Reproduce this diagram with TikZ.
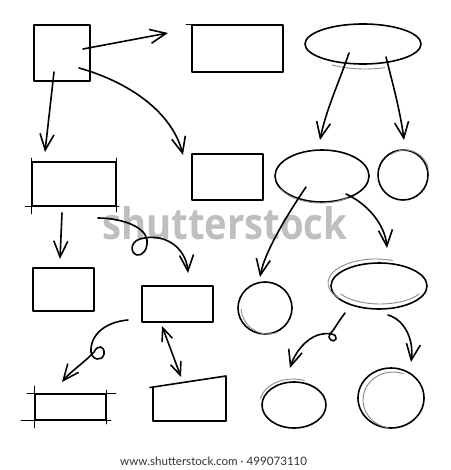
\documentclass[tikz,border=0pt]{standalone}
\usepackage{fontspec}
\usepackage{graphicx}
\newfontfamily\footfont{Lato}
\newfontfamily\markfont{Open Sans}
\usetikzlibrary{arrows.meta,shapes.geometric}

\tikzset{
  pen/.style={line width=1.6pt, line cap=round, line join=round},
  thinpen/.style={line width=1pt, line cap=round},
  ghost/.style={line width=0.9pt, black!45, line cap=round},
  box/.style={draw, pen, rectangle, inner sep=0pt},
  oval/.style={draw, pen, ellipse, inner sep=0pt},
  arr/.style={pen, -{Straight Barb[length=16pt,width=14pt]}},
  twoarr/.style={pen, {Straight Barb[length=13pt,width=11pt]}-{Straight Barb[length=13pt,width=11pt]}}
}

\begin{document}
\begin{tikzpicture}[x=1pt,y=-1pt]
  \useasboundingbox (0,0) rectangle (450,470);
  \fill[white] (0,0) rectangle (450,470);

  % watermark and footer
  \node[inner sep=0pt, anchor=south west, text=black!25] (mark) at (102,240)
    {\resizebox{245pt}{33pt}{\markfont\bfseries shutterstock}};
  \node[inner sep=0pt, anchor=base west, text=black!80,
    font=\footfont\fontsize{11.6}{14}\selectfont] (foot) at (120,465)
    {www.shutterstock.com · 499073110};

  % boxes
  \node[box, minimum width=56pt, minimum height=56pt] (sq) at (62,53) {};
  \node[box, minimum width=91pt, minimum height=47pt] (top) at (237.5,48.5) {};
  \node[box, minimum width=84pt, minimum height=44pt] (left2) at (74,184) {};
  \node[box, minimum width=71pt, minimum height=46pt] (right2) at (227.5,177) {};
  \node[box, minimum width=61pt, minimum height=43pt] (left3) at (63.5,289.5) {};
  \node[box, minimum width=71pt, minimum height=36pt] (mid3) at (177.5,304) {};
  \node[box, minimum width=71pt, minimum height=26pt] (left4) at (70.5,407) {};
  \draw[pen] (150,387.5) -- (226,376) -- (226,421) -- (153,421) -- (153,387);
  \coordinate (trap) at (189,400);

  % overshooting strokes
  \draw[thinpen] ([shift={(-5,0)}]top.north west) -- (top.north west);
  \draw[thinpen] ([shift={(0,-3)}]left2.north west) -- ([shift={(0,7)}]left2.south west);
  \draw[thinpen] ([shift={(-6,0)}]left2.south west) -- ([shift={(2,0)}]left2.south east);
  \draw[thinpen] ([shift={(0,-3)}]left2.north east) -- ([shift={(0,5)}]left2.south east);
  \draw[thinpen] ([shift={(0,-7)}]left4.north west) -- ([shift={(0,7)}]left4.south west);
  \draw[thinpen] ([shift={(0,-3)}]left4.north east) -- ([shift={(0,3)}]left4.south east);
  \draw[thinpen] ([shift={(-7,0)}]left4.north west) -- ([shift={(9,0)}]left4.north east);
  \draw[thinpen] ([shift={(-13,0)}]left4.south west) -- ([shift={(4,0)}]left4.south east);

  % ellipses and circles
  \node[oval, minimum width=116pt, minimum height=40pt] (oval1) at (363,44) {};
  \node[oval, minimum width=94pt, minimum height=52pt] (oval2) at (322,176) {};
  \node[oval, minimum width=50pt, minimum height=50pt] (ring1) at (403,175) {};
  \node[oval, minimum width=54pt, minimum height=52pt] (ring2) at (265,308) {};
  \node[oval, minimum width=96pt, minimum height=46pt] (oval3) at (379,286) {};
  \node[oval, minimum width=64pt, minimum height=46pt] (ring3) at (294,405) {};
  \node[oval, minimum width=66pt, minimum height=60pt] (ring4) at (391,398) {};

  % second strokes round the ellipses
  \draw[ghost] (365,47) ++(70:57 and 22) arc[start angle=70, end angle=125, x radius=57, y radius=22];
  \draw[ghost] (321,175) ++(55:47 and 28) arc[start angle=55, end angle=150, x radius=47, y radius=28];
  \draw[ghost] (405,174) ++(235:24 and 24) arc[start angle=235, end angle=345, x radius=24, y radius=24];
  \draw[ghost] (268,307) ++(70:27 and 27) arc[start angle=70, end angle=175, x radius=27, y radius=27];
  \draw[ghost] (376,283) ++(140:48 and 24) arc[start angle=140, end angle=290, x radius=48, y radius=24];
  \draw[ghost] (380,284) ++(30:45 and 20) arc[start angle=30, end angle=150, x radius=45, y radius=20];
  \draw[ghost] (293,403) ++(190:33 and 24) arc[start angle=190, end angle=290, x radius=33, y radius=24];
  \draw[ghost] (393,400) ++(100:30 and 28) arc[start angle=100, end angle=290, x radius=30, y radius=28];

  % arrow ends
  \coordinate (sqa) at (83,49);   \coordinate (topa) at (168,33);
  \coordinate (sqb) at (54,72);   \coordinate (left2a) at (45,152);
  \coordinate (sqc) at (79,68);   \coordinate (right2a) at (183,155);
  \coordinate (oval1a) at (349,53); \coordinate (oval2a) at (320,140);
  \coordinate (oval1b) at (386,57); \coordinate (ring1a) at (404,140);
  \coordinate (oval2b) at (306,187); \coordinate (ring2a) at (260,277);
  \coordinate (oval2c) at (346,194); \coordinate (oval3a) at (387,248);
  \coordinate (oval3b) at (345,313); \coordinate (ring3a) at (290,368);
  \coordinate (oval3c) at (388,315); \coordinate (ring4a) at (411,362);
  \coordinate (left2b) at (62,213); \coordinate (left3a) at (60,259);
  \coordinate (left2c) at (98,218); \coordinate (mid3a) at (188,273);
  \coordinate (mid3b) at (128,320); \coordinate (left4a) at (62,382);
  \coordinate (mid3c) at (162,326); \coordinate (trapa) at (181,377);

  % arrows
  \draw[arr] (sqa) -- (topa);
  \draw[arr] (sqb) -- (left2a);
  \draw[arr] (sqc) .. controls (129,82) and (172,112) .. (right2a);
  \draw[arr] (oval1a) .. controls (338,85) and (326,110) .. (oval2a);
  \draw[arr] (oval1b) .. controls (393,85) and (400,110) .. (ring1a);
  \draw[arr] (oval2b) .. controls (291,209) and (265,250) .. (ring2a);
  \draw[arr] (oval2c) .. controls (368,204) and (385,225) .. (oval3a);
  \draw[arr] (oval3b) .. controls (338,322) and (334,330) .. (330,334)
    .. controls (326,338) and (334,344) .. (336,339)
    .. controls (338,334) and (328,332) .. (318,335)
    .. controls (306,339) and (295,352) .. (ring3a);
  \draw[arr] (oval3c) .. controls (405,320) and (414,340) .. (ring4a);
  \draw[arr] (left2b) -- (left3a);
  \draw[arr] (left2c) .. controls (120,218) and (145,226) .. (147,240)
    .. controls (148,250) and (142,256) .. (137,255)
    .. controls (130,253) and (130,242) .. (140,239)
    .. controls (165,232) and (186,248) .. (mid3a);
  \draw[arr] (mid3b) .. controls (105,322) and (90,335) .. (91,352)
    .. controls (92,360) and (102,362) .. (104,354)
    .. controls (105,346) and (98,344) .. (94,352)
    .. controls (85,362) and (70,372) .. (left4a);
  \draw[twoarr] (mid3c) -- (trapa);
\end{tikzpicture}
\end{document}
